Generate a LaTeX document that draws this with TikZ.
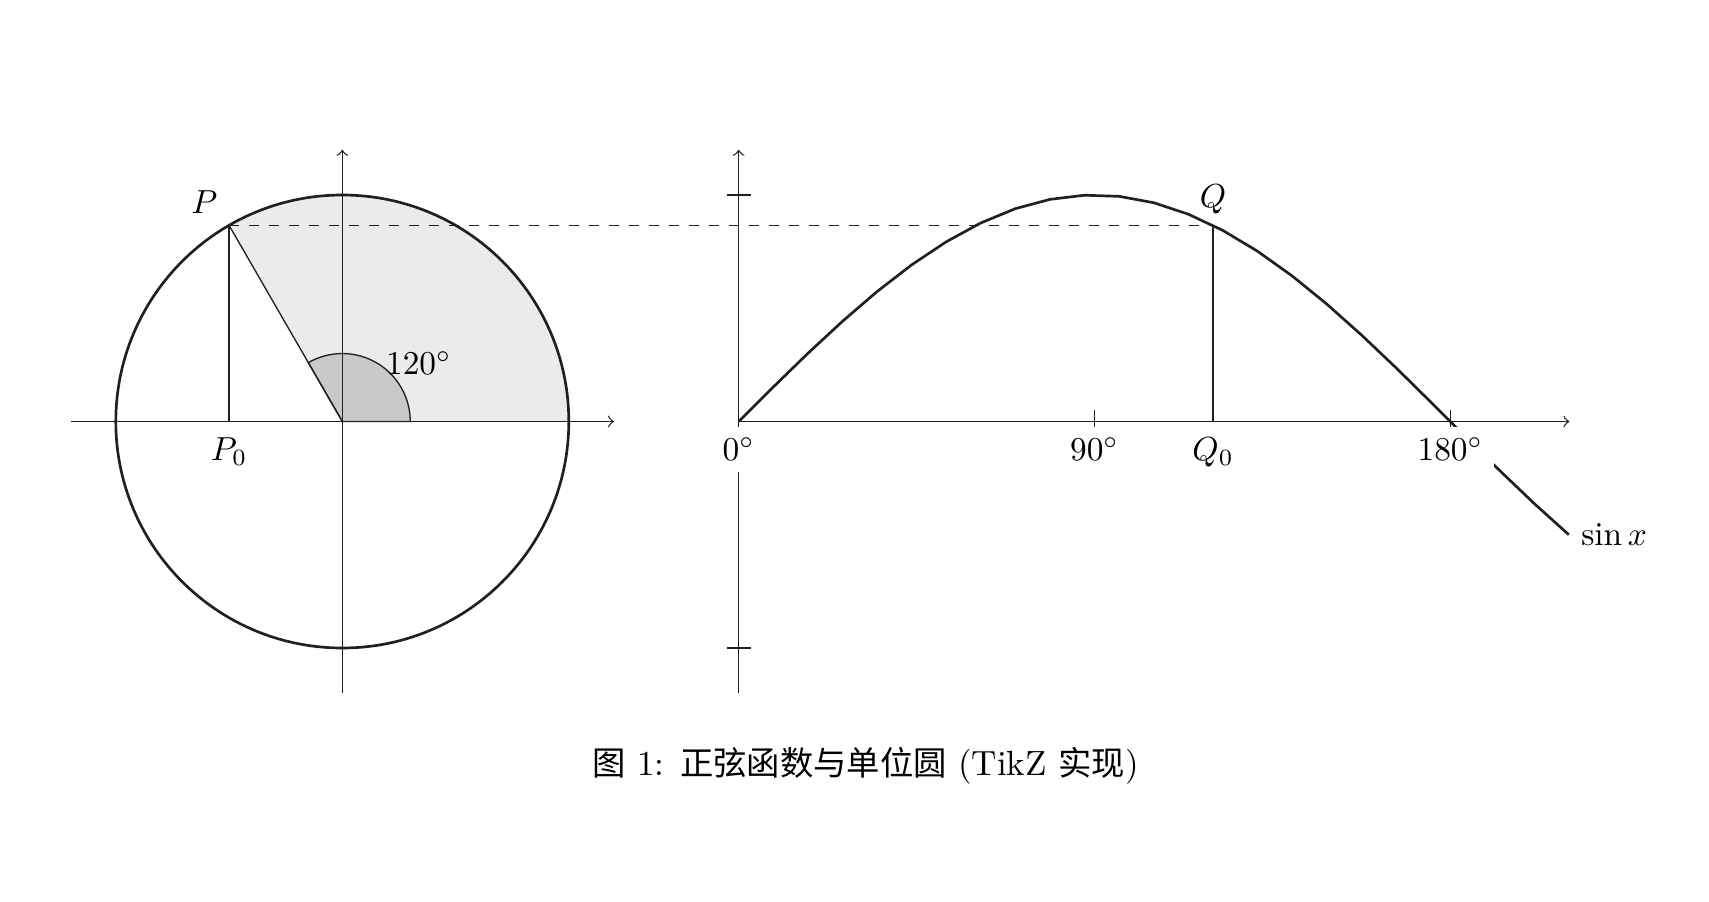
\documentclass[tikz,border=0pt]{standalone}
\usepackage{fontspec}
\newfontfamily\cjk{Noto Sans CJK SC}
\newcommand\zh[1]{{\cjk\fontsize{10}{12}\selectfont #1}}
\definecolor{sectorlight}{HTML}{EBEBEB}
\definecolor{sectordark}{HTML}{C8C9C8}
\definecolor{ink}{HTML}{231F20}
\begin{document}
\begin{tikzpicture}[x=67.95pt,y=67.95pt,
  axisline/.style={line width=0.4pt,->,draw=ink},
  thinline/.style={line width=0.4pt,draw=ink},
  thickline/.style={line width=0.8pt,draw=ink},
  lab/.style={fill=white,anchor=north,inner sep=3.33pt},
  tag/.style={inner sep=3.33pt}]
\useasboundingbox (-1.5113,-2.1214) rectangle (6.034,1.861);
% key points
\coordinate (O) at (0,0);
\coordinate (A) at (1,0);
\coordinate (a) at (0.3,0);
\coordinate (P) at (120:1);
\coordinate (P0) at (P |- O);
\coordinate (O2) at (1.75,0);
\coordinate (Q) at ({1.75+2*pi/3},{sin(120)});
\coordinate (Q0) at (Q |- O2);
% axis ends
\coordinate (xl) at (-1.2,0);
\coordinate (xr) at (1.2,0);
\coordinate (yb) at (0,-1.2);
\coordinate (yt) at (0,1.2);
\coordinate (Xr) at (5.418,0);
\coordinate (Yb) at (1.75,-1.2);
\coordinate (Yt) at (1.75,1.2);
\coordinate (t1l) at (1.697,1);
\coordinate (t1r) at (1.803,1);
\coordinate (t2l) at (1.697,-1);
\coordinate (t2r) at (1.803,-1);
\coordinate (h1b) at ({1.75+pi/2},-0.053);
\coordinate (h1t) at ({1.75+pi/2},0.053);
\coordinate (h2b) at ({1.75+pi},-0.053);
\coordinate (h2t) at ({1.75+pi},0.053);
% sectors
\fill[sectorlight] (O) -- (A) arc[start angle=0,end angle=120,radius=1] -- cycle;
\filldraw[fill=sectordark,thinline] (O) -- (a) arc[start angle=0,end angle=120,radius=0.3] -- cycle;
% left axes and circle
\draw[axisline] (xl) -- (xr);
\draw[axisline] (yb) -- (yt);
\draw[thickline] (O) circle[radius=1];
\draw[thinline] (O) -- (P);
\draw[thinline] (P) -- (P0);
\draw[thinline,dashed] (P) -- (Q);
% right axes
\draw[axisline] (O2) -- (Xr);
\draw[axisline] (Yb) -- (Yt);
\draw[thinline] (t1l) -- (t1r);
\draw[thinline] (t2l) -- (t2r);
\draw[thinline] (h1b) -- (h1t);
\draw[thinline] (h2b) -- (h2t);
\draw[thinline] (Q) -- (Q0);
\draw[thickline] plot[domain=0:210,samples=25] ({1.75+\x*pi/180},{sin(\x)})
  node[tag,right] (sinx) {$\sin x$};
% labels
\node[lab] (l0) at ([yshift=-1.36pt]O2) {$0^\circ$};
\node[lab] (l90) at ([yshift=-1.36pt]h1b |- O2) {$90^\circ$};
\node[lab] (lq0) at ([yshift=-1.36pt]Q0) {$Q_0$};
\node[lab] (l180) at ([yshift=-1.36pt]h2b |- O2) {$180^\circ$};
\node[lab,fill=none] (lp0) at ([yshift=-1.36pt]P0) {$P_0$};
\node[tag,above left] (lp) at (P) {$P$};
\node[tag,above] (lq) at (Q) {$Q$};
\node[anchor=base] (lang) at (0.3377,0.2088) {$120^\circ$};
% caption
\node[anchor=base] (cap) at (2.310,-1.5651) {\fontsize{10.5}{12}\selectfont\zh{图} 1: \zh{正弦函数与单位圆} (TikZ \zh{实现})};
\end{tikzpicture}
\end{document}
